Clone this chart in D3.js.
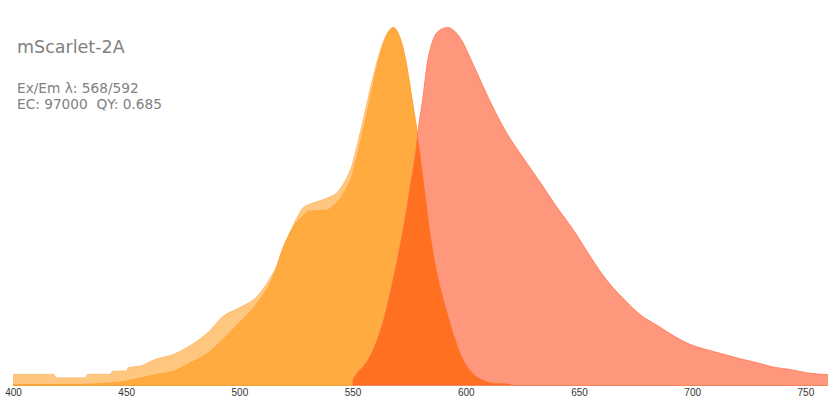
<!DOCTYPE html>
<html>
<head>
<meta charset="utf-8">
<script src="https://cdn.jsdelivr.net/npm/d3@7"></script>
<style>
  body { margin: 0; background: #fff; }
  svg { display: block; }
</style>
</head>
<body>
<div id="chart"></div>
<script>
// spectra (normalised 0..1)
const abWl  = [400, 418, 419, 432, 433, 443, 444, 450, 451, 456, 463, 471, 478, 486, 493, 500, 508, 515, 518, 520, 522, 524, 526, 528, 531, 535, 539, 543, 547, 550, 552, 555, 559, 562, 565, 568, 570, 572, 574, 576, 578, 580, 582, 584, 586, 589, 595, 600, 606, 612, 620];
const abVal = [0.031, 0.031, 0.021, 0.021, 0.031, 0.031, 0.04, 0.04, 0.05, 0.054, 0.073, 0.087, 0.11, 0.147, 0.194, 0.217, 0.25, 0.315, 0.352, 0.39, 0.42, 0.45, 0.475, 0.495, 0.506, 0.515, 0.524, 0.538, 0.575, 0.62, 0.67, 0.75, 0.86, 0.93, 0.98, 1.0, 0.985, 0.945, 0.885, 0.805, 0.725, 0.635, 0.535, 0.435, 0.355, 0.265, 0.13, 0.055, 0.018, 0.007, 0.004];

const exWl  = [400, 430, 440, 450, 456, 463, 471, 478, 486, 493, 500, 508, 515, 519, 524, 528, 531, 535, 539, 541, 543, 547, 550, 552, 555, 559, 562, 565, 568, 570, 572, 574, 576, 578, 580, 582, 584, 586, 589, 592, 595, 598, 600, 603, 606, 609, 612, 616, 620];
const exVal = [0.003, 0.003, 0.006, 0.012, 0.02, 0.03, 0.04, 0.062, 0.09, 0.13, 0.175, 0.231, 0.305, 0.38, 0.445, 0.473, 0.487, 0.488, 0.49, 0.5, 0.51, 0.547, 0.59, 0.64, 0.72, 0.835, 0.92, 0.975, 1.0, 0.985, 0.95, 0.89, 0.81, 0.73, 0.64, 0.54, 0.44, 0.36, 0.27, 0.2, 0.137, 0.085, 0.06, 0.035, 0.02, 0.012, 0.007, 0.006, 0.004];

const emWl  = [550, 552, 555, 558, 561, 564, 567, 570, 573, 575, 578, 579, 581, 583, 585, 588, 592, 595, 598, 603, 611, 618, 626, 633, 640, 648, 655, 662, 670, 677, 685, 692, 699, 707, 714, 721, 729, 736, 743, 751, 760];
const emVal = [0.015, 0.035, 0.055, 0.085, 0.13, 0.19, 0.27, 0.36, 0.46, 0.54, 0.66, 0.715, 0.8, 0.9, 0.955, 0.99, 1.0, 0.99, 0.966, 0.9, 0.79, 0.706, 0.63, 0.566, 0.5, 0.43, 0.36, 0.296, 0.24, 0.198, 0.166, 0.138, 0.115, 0.099, 0.087, 0.075, 0.063, 0.051, 0.045, 0.035, 0.03];

const ticks = [400, 450, 500, 550, 600, 650, 700, 750];

const width = 840, height = 420;
const svg = d3.select("#chart").append("svg")
  .attr("width", width)
  .attr("height", height);

const x = d3.scaleLinear().domain([400, 760]).range([13, 828]);
const y = d3.scaleLinear().domain([0, 1]).range([385.5, 27.5]);

const pts = (wl, v) => wl.map((w, i) => [w, v[i]]);
const ab = pts(abWl, abVal), ex = pts(exWl, exVal), em = pts(emWl, emVal);

const area = d3.area()
  .x(d => x(d[0])).y0(y(0)).y1(d => y(d[1]))
  .curve(d3.curveMonotoneX);
const line = d3.line()
  .x(d => x(d[0])).y(d => y(d[1]))
  .curve(d3.curveMonotoneX);

// clip for the overlap of excitation and emission
svg.append("clipPath").attr("id", "exclip")
  .append("path").attr("d", area(ex));

const g = svg.append("g");
g.append("path").attr("d", area(ab)).attr("fill", "#ffc680");
g.append("path").attr("d", line(ab)).attr("fill", "none").attr("stroke", "#ffbd6e").attr("stroke-width", 1);
g.append("path").attr("d", area(ex)).attr("fill", "#ffab40");
g.append("path").attr("d", line(ex)).attr("fill", "none").attr("stroke", "#ffa535").attr("stroke-width", 1);
g.append("path").attr("d", area(em)).attr("fill", "#ff977c");
g.append("path").attr("d", line(em)).attr("fill", "none").attr("stroke", "#ff8465").attr("stroke-width", 1);
g.append("path").attr("d", area(em)).attr("fill", "#ff7020").attr("clip-path", "url(#exclip)");

// baselines under the curves
g.append("line").attr("x1", x(400)).attr("x2", x(550)).attr("y1", y(0)).attr("y2", y(0))
  .attr("stroke", "#f5a03a").attr("stroke-width", 1.2);
g.append("line").attr("x1", x(550)).attr("x2", x(760)).attr("y1", y(0)).attr("y2", y(0))
  .attr("stroke", "#f5845e").attr("stroke-width", 1.2);

const axis = svg.append("g")
  .attr("transform", `translate(0,${y(0)})`)
  .call(d3.axisBottom(x).tickValues(ticks).tickSize(0).tickPadding(3));
axis.select(".domain").remove();
axis.selectAll("text")
  .attr("font-family", "Liberation Sans, Arial, sans-serif")
  .attr("font-size", "10px")
  .attr("fill", "#333");

// labels
svg.append("text")
  .attr("x", 17).attr("y", 53)
  .attr("font-family", "DejaVu Sans, sans-serif")
  .attr("font-size", "17.5px")
  .attr("fill", "#808080")
  .text("mScarlet-2A");
svg.append("text")
  .attr("x", 17).attr("y", 93)
  .attr("font-family", "DejaVu Sans, sans-serif")
  .attr("font-size", "13.7px")
  .attr("fill", "#808080")
  .text("Ex/Em λ: 568/592");
svg.append("text")
  .attr("x", 17).attr("y", 109)
  .attr("font-family", "DejaVu Sans, sans-serif")
  .attr("font-size", "13.7px")
  .attr("fill", "#808080")
  .style("white-space", "pre")
  .text("EC: 97000  QY: 0.685");
</script>
</body>
</html>
